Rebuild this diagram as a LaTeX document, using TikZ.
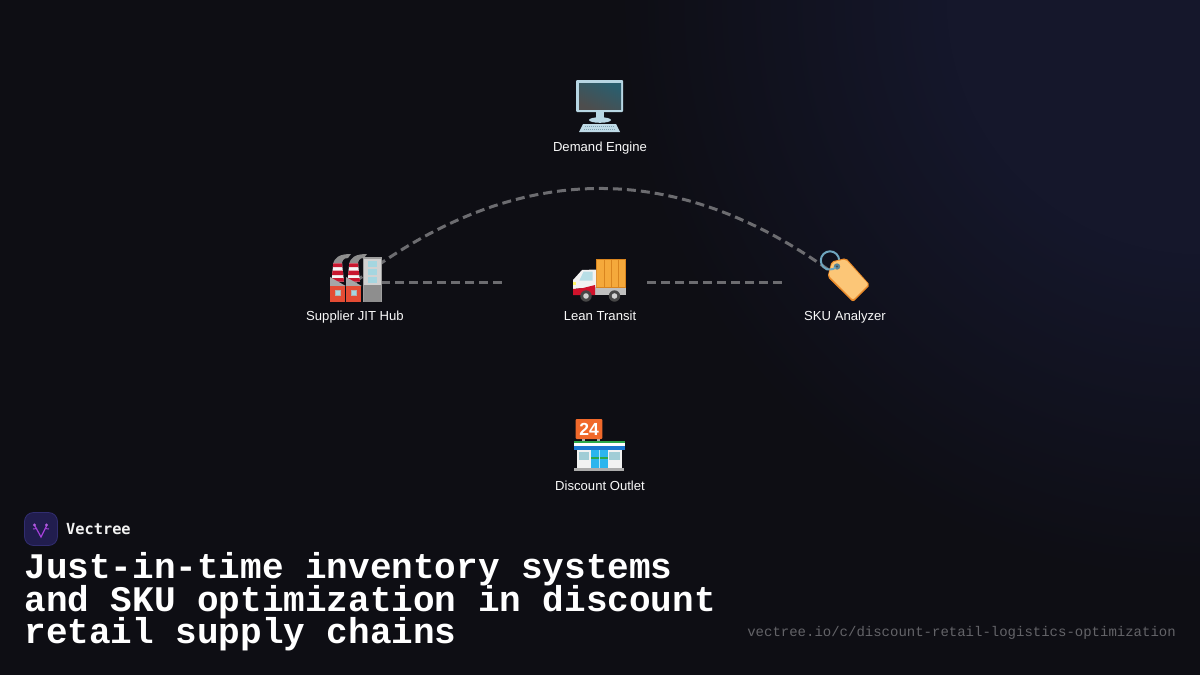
\documentclass[tikz,border=0pt]{standalone}
\usepackage{xcolor}
\usepackage{fontspec}
\setmainfont{Liberation Sans}
\newfontfamily\titlefont{Liberation Mono}
\newfontfamily\brandfont{DejaVu Sans Mono}
\usetikzlibrary{arrows.meta, positioning, fadings}
\lineskiplimit=-30pt

\definecolor{bgdark}{HTML}{0E0E14}
\definecolor{bgglow}{HTML}{15172B}
\definecolor{linkgrey}{HTML}{6C6C70}
\definecolor{urlgrey}{HTML}{636368}
\definecolor{iceblue}{HTML}{B7D6E3}
\definecolor{screentop}{HTML}{2A5E6E}
\definecolor{screenlow}{HTML}{4D4D4D}
\definecolor{smoke}{HTML}{8E8E8E}
\definecolor{brick}{HTML}{E44C34}
\definecolor{stripe}{HTML}{C8172F}
\definecolor{glassblue}{HTML}{A5D6E0}
\definecolor{cargo}{HTML}{F5A93B}
\definecolor{cargoedge}{HTML}{D9851F}
\definecolor{cabred}{HTML}{D0122B}
\definecolor{tagfill}{HTML}{FCC677}
\definecolor{tagedge}{HTML}{E98A2A}
\definecolor{ringblue}{HTML}{6FA6BF}
\definecolor{signorange}{HTML}{F0692B}
\definecolor{awngreen}{HTML}{2BA84A}
\definecolor{awnblue}{HTML}{1A78D0}
\definecolor{doorblue}{HTML}{2BB5EE}
\definecolor{logofill}{HTML}{211D4E}
\definecolor{logoedge}{HTML}{312D70}
\definecolor{logomark}{HTML}{A33FD9}

\pgfdeclareradialshading{glowshade}{\pgfpoint{0bp}{0bp}}{%
  color(0bp)=(pgftransparent!0); color(9bp)=(pgftransparent!0);
  color(21bp)=(pgftransparent!100); color(50bp)=(pgftransparent!100)}
\pgfdeclarefading{glowfade}{\pgfuseshading{glowshade}}

\tikzset{
  % desktop computer
  monitor/.pic={
    \fill[iceblue, rounded corners=1pt] (-24,-25) rectangle (23,7);
    \fill[top color=screentop, bottom color=screenlow, shading angle=-25] (-21,-22) rectangle (21,4);
    \fill[iceblue] (-4,7) rectangle (3.5,13);
    \fill[iceblue] (0,15) ellipse (11 and 2.8);
    \fill[iceblue!90!white] (-17,19) -- (16,19) -- (20,27) -- (-21,27) -- cycle;
    \draw[gray!70!cyan, line width=.5pt, dash pattern=on 1pt off 1pt] (-15,21.5) -- (15,21.5);
    \draw[gray!70!cyan, line width=.5pt, dash pattern=on 1pt off 1pt] (-16,24) -- (16,24);
  },
  % factory with two chimneys and a tower
  factory/.pic={
    \foreach \dx in {0,16} {
      \fill[smoke] (-22+\dx,-12) .. controls (-21+\dx,-20) and (-15+\dx,-23) .. (-4+\dx,-23) -- (-7+\dx,-19) .. controls (-12+\dx,-19) and (-13+\dx,-16) .. (-13+\dx,-12) -- cycle;
      \fill[white!92!gray] (-21.7+\dx,-13.7) -- (-13+\dx,-13.7) -- (-11+\dx,4.7) -- (-23.5+\dx,4.7) -- cycle;
      \fill[stripe] (-21.7+\dx,-13.7) -- (-13+\dx,-13.7) -- (-12.6+\dx,-10) -- (-22.1+\dx,-10) -- cycle;
      \fill[stripe] (-22.4+\dx,-6.5) -- (-12.2+\dx,-6.5) -- (-11.8+\dx,-2) -- (-22.9+\dx,-2) -- cycle;
      \fill[stripe] (-23.2+\dx,1.2) -- (-11.4+\dx,1.2) -- (-11+\dx,4.7) -- (-23.5+\dx,4.7) -- cycle;
      \fill[gray!70] (-25+\dx,0) -- (-25+\dx,9) -- (-9.3+\dx,9) -- cycle;
      \fill[brick] (-25+\dx,9) rectangle (-9.6+\dx,25);
      \fill[gray!60] (-20+\dx,13) rectangle (-14.5+\dx,19);
      \fill[glassblue] (-19+\dx,14) rectangle (-15.5+\dx,18);
    }
    \fill[gray!75] (7.5,-20) rectangle (27,25);
    \fill[gray!35] (9,-18) rectangle (26,8);
    \fill[smoke] (9,8) rectangle (26,25);
    \foreach \wy in {-16,-8.5,-.5}
      \fill[glassblue] (13.3,\wy) rectangle (21.7,\wy+6);
  },
  % delivery truck
  truck/.pic={
    \fill[gray!50] (-5,10) rectangle (25.7,18);
    \fill[cargo] (-4,-18) rectangle (25.7,10);
    \draw[cargoedge, line width=.7pt] (-4,-18) rectangle (25.7,10);
    \foreach \sx in {4,11,18.5}
      \draw[cargoedge, line width=.7pt] (\sx,-18) -- (\sx,10);
    \fill[white!90!gray] (-27,12) -- (-27,3) -- (-18,-7) -- (-4,-7.5) -- (-4,10) -- cycle;
    \fill[glassblue!80!white] (-20.7,3.7) -- (-16.5,-5.3) -- (-7.3,-5.3) -- (-7.3,3.7) -- cycle;
    \fill[cabred] (-27,12) -- (-27,18) -- (-5,18) -- (-5,8) -- (-17,11) -- cycle;
    \fill[yellow!60!white] (-27,5) rectangle (-24.5,8);
    \foreach \wx in {-14,14.5} {
      \fill[black!72] (\wx,19) circle (5.7);
      \fill[gray!35] (\wx,19) circle (2.8);
    }
  },
  % price tag with a ring
  pricetag/.pic={
    \draw[ringblue, line width=2pt] (-15,-16.5) circle (9.2);
    \fill[tagedge, rounded corners=2pt] (-17.5,0) -- (-13.5,-15.5) -- (1,-19) -- (25,8) -- (8,25) -- cycle;
    \fill[tagfill, rounded corners=2pt] (-16.5,-1.5) -- (-12.8,-14.6) -- (0.5,-17.7) -- (23.5,7.5) -- (8,22.8) -- cycle;
    \fill[ringblue!80!black] (-8,-10.5) circle (3.2);
    \fill[black!70] (-8,-10.5) circle (1.2);
    \draw[ringblue, line width=2pt] (-15.5,-7.5) arc (90:20:6.5 and 3);
  },
  % convenience store
  store/.pic={
    \fill[gray!60] (-18,-7.5) rectangle (-15.5,-5);
    \fill[gray!60] (-3,-7.5) rectangle (-.5,-5);
    \fill[signorange, rounded corners=1pt] (-24.3,-27) rectangle (2.3,-7);
    \node[font=\bfseries\fontsize{17.5}{18}\selectfont, text=white, inner sep=0pt] (storesign) at (-11,-17) {24};
    \fill[white!90!gray] (-23,4) rectangle (22.3,21.5);
    \fill[glassblue!90!gray] (-21,5.7) rectangle (-10.7,14);
    \fill[glassblue!90!gray] (9.3,5.7) rectangle (20,14);
    \fill[doorblue] (-9.5,4) rectangle (8,21.5);
    \fill[awngreen] (-9.5,11) rectangle (8,13);
    \draw[white!70!cyan, line width=.5pt] (-.8,4) -- (-.8,21.5);
    \fill[awngreen] (-26,-5.3) rectangle (25,-2.7);
    \fill[white] (-26,-2.7) rectangle (25,0);
    \fill[awnblue] (-26,0) rectangle (25,4);
    \fill[gray!65] (-25.7,21.5) rectangle (24.3,25);
  },
}

\begin{document}
\lineskiplimit=-30pt
\begin{tikzpicture}[
  x=1pt, y=-1pt,
  spot/.style={minimum width=52pt, minimum height=52pt, inner sep=0pt},
  tag/.style={font=\fontsize{13.1}{15}\selectfont, text=white!95!gray, inner sep=0pt, anchor=base},
  link/.style={draw=linkgrey, line width=3pt, dash pattern=on 9pt off 5pt},
]
  \useasboundingbox (0,0) rectangle (1200,675);
  \fill[bgdark] (0,0) rectangle (1200,675);
  \begin{scope}
    \clip (0,0) rectangle (1200,675);
    \fill[bgglow, path fading=glowfade] (500,-700) rectangle (1900,700);
  \end{scope}

  \node[spot] (demand) at (600,105) {};
  \node[spot] (supplier) at (355,282) {};
  \node[spot] (transit) at (600,282) {};
  \node[spot] (sku) at (845,282) {};
  \node[spot] (outlet) at (600,446) {};

  \coordinate (supplierend) at (502,282);
  \coordinate (transitstart) at (647,282);
  \coordinate (skuend) at (784,282);
  \coordinate (bendleft) at (518.3,157.3);
  \coordinate (bendright) at (681.7,157.3);

  \draw[link] (supplier.center) .. controls (bendleft) and (bendright) .. (sku.center);
  \draw[link] (supplier.east) -- (supplierend);
  \draw[link] (transitstart) -- (skuend);

  \pic at (600,105) {monitor};
  \pic at (355,277) {factory};
  \pic at (600,277) {truck};
  \pic at (845,277) {pricetag};
  \pic at (600,446) {store};

  \node[tag] (demandlab) at (600,151) {Demand Engine};
  \node[tag] (supplierlab) at (355,320) {Supplier JIT Hub};
  \node[tag] (transitlab) at (600,320) {Lean Transit};
  \node[tag] (skulab) at (845,320) {SKU Analyzer};
  \node[tag] (outletlab) at (600,490) {Discount Outlet};

  % brand
  \node[draw=logoedge, fill=logofill, rounded corners=9pt, line width=.8pt,
        minimum width=33pt, minimum height=33pt, inner sep=0pt] (logo) at (41,529) {};
  \draw[logomark, line width=1.2pt] (35,526) -- (41,537) -- (46.5,526);
  \draw[logomark, line width=1pt] (33,529) -- (37,528.5) (49,529) -- (45,528.5);
  \fill[logomark!85!white] (34.5,525) circle (1.7) (46.5,525) circle (1.7);
  \node[font=\brandfont\bfseries\fontsize{15.3}{17}\selectfont, text=white!90!gray, inner sep=0pt,
        anchor=base west] (brand) at (66,534) {Vectree};

  \node[font=\titlefont\bfseries\fontsize{36}{32.4}\selectfont, text=white, align=left, inner sep=0pt,
        anchor=north west] (title) at (24.4,552.5) {Just-in-time inventory systems\\and SKU optimization in discount\\retail supply chains};
  \node[font=\titlefont\fontsize{14}{16}\selectfont, text=urlgrey, inner sep=0pt,
        anchor=base east] (url) at (1176,636.5) {vectree.io/c/discount-retail-logistics-optimization};
\end{tikzpicture}
\end{document}
